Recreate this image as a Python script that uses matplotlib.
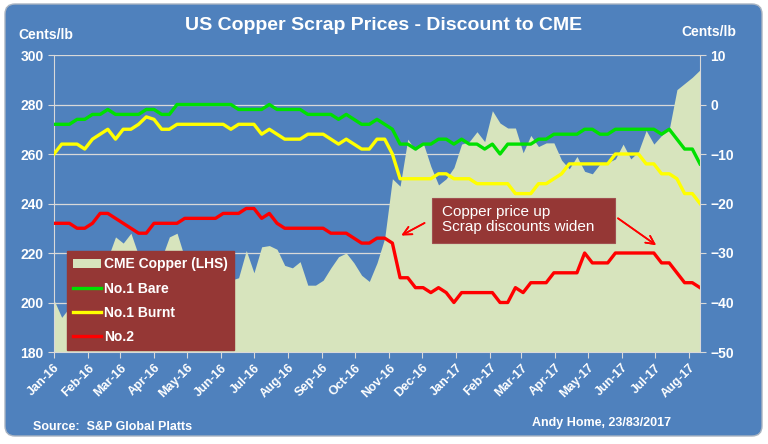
import matplotlib
matplotlib.use("Agg")
import matplotlib.pyplot as plt
from matplotlib.patches import FancyBboxPatch, Rectangle, Patch
from matplotlib.lines import Line2D
import pandas as pd

plt.rcParams['font.family'] = ['Liberation Sans', 'DejaVu Sans']
plt.rcParams['font.weight'] = 'bold'

# weekly prices, Jan-2016 .. Aug-2017
dates = pd.date_range('2016-01-01', periods=85, freq='7D')

# CME copper, cents/lb (left axis)
copper = [201, 194, 198, 196, 205, 208, 212, 218, 226.5, 224,
          228, 219, 215, 213, 218, 226.5, 228, 218, 212, 210,
          208, 210, 212, 209, 210, 221, 212, 222.5, 223, 221.5,
          215, 214, 216.5, 207, 207, 209, 214, 218.5, 220, 216,
          211, 208.5, 216, 226, 250, 247, 266, 261.5, 264.5, 255,
          247.5, 250, 254.5, 264, 265, 269, 265, 277.5, 272.5, 270.5,
          270.5, 260.5, 267.5, 263, 264.5, 264.5, 257.5, 254, 259, 253,
          252, 256, 256.5, 258, 264, 258, 261, 269.5, 264, 267.5,
          270, 286, 288.5, 291, 294]

# scrap discounts to CME, cents/lb (right axis)
bare = [-4, -4, -4, -3, -3, -2, -2, -1, -2, -2,
        -2, -2, -1, -1, -2, -2, 0, 0, 0, 0,
        0, 0, 0, 0, -1, -1, -1, -1, 0, -1,
        -1, -1, -1, -2, -2, -2, -2, -3, -2, -3,
        -4, -4, -3, -4, -5, -8, -8, -9, -8, -8,
        -7, -7, -8, -7, -8, -8, -9, -8, -10, -8,
        -8, -8, -8, -7, -7, -6, -6, -6, -6, -5,
        -5, -6, -6, -5, -5, -5, -5, -5, -5, -6,
        -5, -7, -9, -9, -12]
burnt = [-10, -8, -8, -8, -9, -7, -6, -5, -7, -5,
         -5, -4, -2.5, -3, -5, -5, -4, -4, -4, -4,
         -4, -4, -4, -5, -4, -4, -4, -6, -5, -6,
         -7, -7, -7, -6, -6, -6, -7, -8, -7, -8,
         -9, -9, -7, -7, -10, -15, -15, -15, -15, -15,
         -14, -14, -15, -15, -15, -16, -16, -16, -16, -16,
         -18, -18, -18, -16, -16, -15, -14, -12, -12, -12,
         -12, -12, -12, -10, -10, -10, -10, -12, -12, -14,
         -14, -15, -18, -18, -20]
no2 = [-24, -24, -24, -25, -25, -24, -22, -22, -23, -24,
       -25, -26, -26, -24, -24, -24, -24, -23, -23, -23,
       -23, -23, -22, -22, -22, -21, -21, -23, -22, -24,
       -25, -25, -25, -25, -25, -25, -26, -26, -26, -27,
       -28, -28, -27, -27, -28, -35, -35, -37, -37, -38,
       -37, -38, -40, -38, -38, -38, -38, -38, -40, -40,
       -37, -38, -36, -36, -36, -34, -34, -34, -34, -30,
       -32, -32, -32, -30, -30, -30, -30, -30, -30, -32,
       -32, -34, -36, -36, -37]

month_ticks = pd.date_range('2016-01-01', '2017-08-01', freq='MS')
month_labels = [d.strftime('%b-%y') for d in month_ticks]

blue = '#4f81bd'
area_col = '#d7e4bd'
box_col = '#953735'
grid_col = '#d9d9d9'
green, yellow, red = '#00e000', '#ffff00', '#ff0000'

fig = plt.figure(figsize=(7.68, 4.44), dpi=100)
fig.patch.set_facecolor('white')

# rounded chart background
bg = FancyBboxPatch((0.05, 0.08), 7.57, 4.32,
                    boxstyle='round,pad=0,rounding_size=0.1',
                    transform=fig.dpi_scale_trans,
                    facecolor=blue, edgecolor='#a9b4c2', lw=1, zorder=-10)
fig.add_artist(bg)

ax = fig.add_axes([54/768, 1-352/444, 646/768, 297/444])
ax.set_facecolor(blue)
ax.fill_between(dates, copper, 180, color=area_col, lw=0)
ax.set_ylim(180, 300)
ax.set_yticks(range(180, 301, 20))
ax.set_xlim(dates[0], dates[-1])
ax.set_xticks(month_ticks)
ax.set_xticklabels(month_labels, rotation=45, ha='right', rotation_mode='anchor')
ax.grid(axis='y', color=grid_col, lw=0.9)
ax.set_axisbelow(True)
for s in ['top', 'right']:
    ax.spines[s].set_visible(False)
for s in ['left', 'bottom']:
    ax.spines[s].set_color(grid_col)
ax.tick_params(axis='y', colors=grid_col, labelcolor='white', labelsize=10, length=4)
ax.tick_params(axis='x', colors=grid_col, labelcolor='white', labelsize=9, length=4, pad=3)

ax2 = ax.twinx()
ax2.plot(dates, bare, color=green, lw=2.4)
ax2.plot(dates, burnt, color=yellow, lw=2.4)
ax2.plot(dates, no2, color=red, lw=2.4)
ax2.set_ylim(-50, 10)
ax2.set_yticks(range(-50, 11, 10))
for s in ['top', 'left', 'bottom']:
    ax2.spines[s].set_visible(False)
ax2.spines['right'].set_color(grid_col)
ax2.tick_params(axis='y', colors=grid_col, labelcolor='white', labelsize=10, length=4)

handles = [Patch(facecolor=area_col, edgecolor='none'),
           Line2D([], [], color=green, lw=2.4),
           Line2D([], [], color=yellow, lw=2.4),
           Line2D([], [], color=red, lw=2.4)]
labels = ['CME Copper (LHS)', 'No.1 Bare', 'No.1 Burnt', 'No.2']
leg = ax2.legend(handles, labels, loc='upper left',
                 bbox_to_anchor=(66.7/768, 1-251/444), bbox_transform=fig.transFigure,
                 borderaxespad=0, fancybox=False, facecolor=box_col, edgecolor=box_col,
                 framealpha=1, prop={'weight': 'bold', 'size': 10}, labelcolor='white',
                 handlelength=2.0, handleheight=0.65, handletextpad=0.25,
                 labelspacing=0.74, borderpad=0.45)

# annotation
fig.add_artist(Rectangle((432/768, 1-243/444), 183/768, 45/444,
                         transform=fig.transFigure, facecolor=box_col,
                         edgecolor='#a05050', lw=0.8, zorder=5))
fig.text(442/768, 1-219.5/444, 'Copper price up\nScrap discounts widen',
         color='white', fontsize=11, fontweight='normal', va='center',
         linespacing=1.05, zorder=6)
arrow = dict(arrowstyle='->,head_length=0.6,head_width=0.3', color=red, lw=1.2)
fig.add_artist(ax2.annotate('', xy=(399, 207.3), xycoords='figure pixels',
                            xytext=(427, 222.3), textcoords='figure pixels',
                            arrowprops=arrow))
fig.add_artist(ax2.annotate('', xy=(658.3, 197.3), xycoords='figure pixels',
                            xytext=(615.7, 227.3), textcoords='figure pixels',
                            arrowprops=arrow))

fig.text(0.5, 1-26/444, 'US Copper Scrap Prices - Discount to CME',
         color='white', fontsize=14, ha='center', va='center')
fig.text(18/768, 1-35/444, 'Cents/lb', color='white', fontsize=10, va='center')
fig.text(681/768, 1-32/444, 'Cents/lb', color='white', fontsize=10, va='center')
fig.text(33/768, 1-427/444, 'Source:  S&P Global Platts', color='white', fontsize=9, va='center')
fig.text(532/768, 1-423/444, 'Andy Home, 23/83/2017', color='white', fontsize=9, va='center')

fig.savefig('out.png', dpi=100, facecolor='white')
